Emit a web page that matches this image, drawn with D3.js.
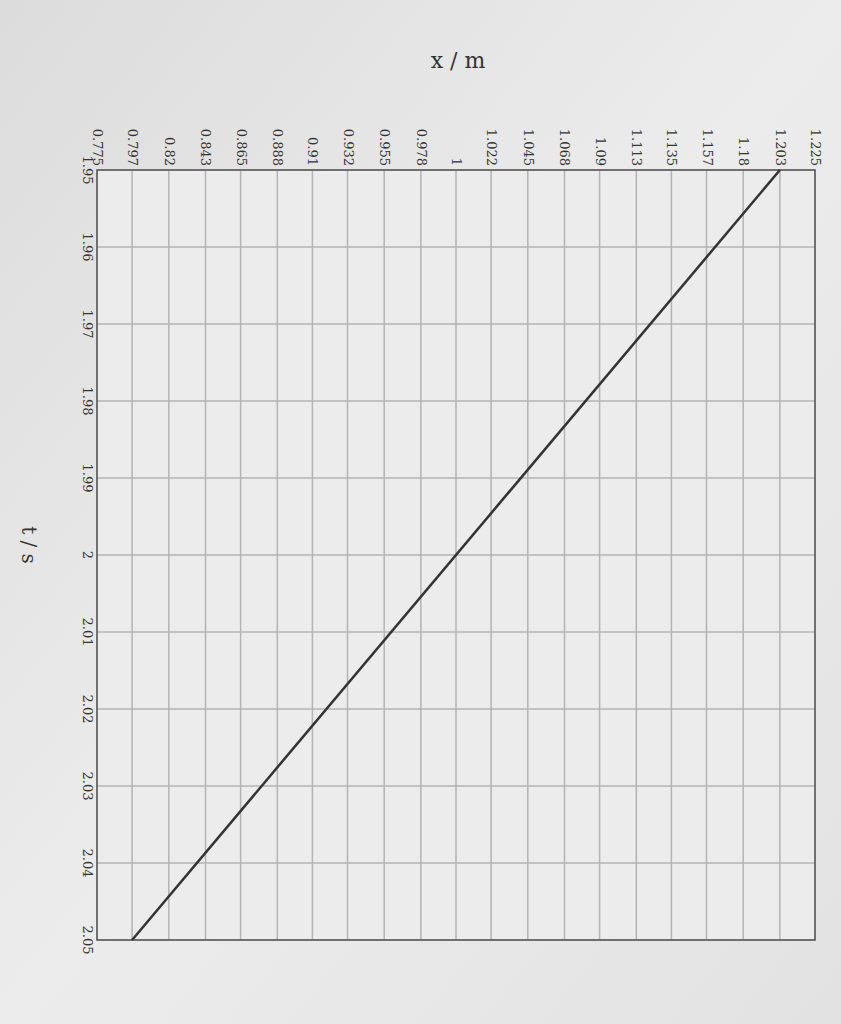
<!DOCTYPE html>
<html><head><meta charset="utf-8">
<script src="https://cdn.jsdelivr.net/npm/d3@7"></script>
<style>body{margin:0;background:#e6e6e6}</style>
</head><body>
<svg id="chart" width="841" height="1024"></svg>
<script>
// chart is drawn turned a quarter turn clockwise, like the photo
const xTicks = [0.775, 0.797, 0.82, 0.843, 0.865, 0.888, 0.91, 0.932, 0.955, 0.978, 1,
    1.022, 1.045, 1.068, 1.09, 1.113, 1.135, 1.157, 1.18, 1.203, 1.225];
const tTicks = [1.95, 1.96, 1.97, 1.98, 1.99, 2, 2.01, 2.02, 2.03, 2.04, 2.05];
const lineT = [1.95, 2.05];
const lineX = [1.203, 0.797];

const svg = d3.select("#chart");
const plotLeft = 97, plotRight = 815, plotTop = 170, plotBottom = 940;

// x/m runs left to right, t/s runs top to bottom
const xScale = d3.scaleLinear().domain([0.775, 1.225]).range([plotLeft, plotRight]);
const tScale = d3.scaleLinear().domain([1.95, 2.05]).range([plotTop, plotBottom]);

// background fade
const grad = svg.append("defs").append("linearGradient").attr("id", "bg")
    .attr("x1", 0).attr("y1", 0).attr("x2", 1).attr("y2", 1);
grad.append("stop").attr("offset", 0).attr("stop-color", "#dcdcdc");
grad.append("stop").attr("offset", 0.5).attr("stop-color", "#ececec");
grad.append("stop").attr("offset", 1).attr("stop-color", "#e2e2e2");
svg.append("rect").attr("width", 841).attr("height", 1024).attr("fill", "url(#bg)");

svg.append("rect").attr("x", plotLeft).attr("y", plotTop)
    .attr("width", plotRight - plotLeft).attr("height", plotBottom - plotTop).attr("fill", "#ececec");

// grid
svg.selectAll(".gx").data(xTicks).enter().append("line")
    .attr("x1", d => xScale(d)).attr("x2", d => xScale(d))
    .attr("y1", plotTop).attr("y2", plotBottom)
    .attr("stroke", "#b4b4b4").attr("stroke-width", 1.5);
svg.selectAll(".gt").data(tTicks).enter().append("line")
    .attr("y1", d => tScale(d)).attr("y2", d => tScale(d))
    .attr("x1", plotLeft).attr("x2", plotRight)
    .attr("stroke", "#b4b4b4").attr("stroke-width", 1.5);

svg.append("rect").attr("x", plotLeft).attr("y", plotTop)
    .attr("width", plotRight - plotLeft).attr("height", plotBottom - plotTop)
    .attr("fill", "none").attr("stroke", "#555").attr("stroke-width", 1.5);

// tick labels, rotated
svg.selectAll(".lx").data(xTicks).enter().append("text")
    .attr("transform", d => `translate(${xScale(d) - 4},${plotTop - 4}) rotate(90)`)
    .attr("text-anchor", "end")
    .attr("font-family", "DejaVu Serif").attr("font-size", 13).attr("fill", "#333")
    .text(d => d);
svg.selectAll(".lt").data(tTicks).enter().append("text")
    .attr("transform", d => `translate(${plotLeft - 14},${tScale(d)}) rotate(90)`)
    .attr("text-anchor", "middle")
    .attr("font-family", "DejaVu Serif").attr("font-size", 13).attr("fill", "#333")
    .text(d => d);

// axis titles
svg.append("text").attr("x", 458).attr("y", 68).attr("text-anchor", "middle")
    .attr("font-family", "DejaVu Serif").attr("font-size", 22).attr("fill", "#333")
    .text("x / m");
svg.append("text").attr("transform", `translate(22,545) rotate(90)`)
    .attr("text-anchor", "middle")
    .attr("font-family", "DejaVu Serif").attr("font-size", 20).attr("fill", "#333")
    .text("t / s");

// data line
const pts = lineT.map((t, i) => [xScale(lineX[i]), tScale(t)]);
svg.append("path").attr("d", d3.line()(pts))
    .attr("fill", "none").attr("stroke", "#333").attr("stroke-width", 2.5);
</script>
</body></html>
